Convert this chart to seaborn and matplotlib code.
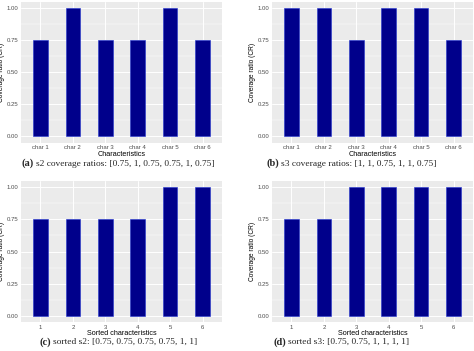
# coverage ratio bar panels (a)-(d), ggplot-like look
import matplotlib.pyplot as plt
import matplotlib as mpl
import seaborn as sns

sns.set_theme(style='darkgrid')
mpl.rcParams['font.family'] = ['Liberation Sans', 'DejaVu Sans']
mpl.rcParams['axes.facecolor'] = '#EBEBEB'
mpl.rcParams['grid.color'] = 'white'

chars = ['char 1', 'char 2', 'char 3', 'char 4', 'char 5', 'char 6']
sorted_idx = ['1', '2', '3', '4', '5', '6']
s2 = [0.75, 1, 0.75, 0.75, 1, 0.75]
s3 = [1, 1, 0.75, 1, 1, 0.75]
s2_sorted = [0.75, 0.75, 0.75, 0.75, 1, 1]
s3_sorted = [0.75, 0.75, 1, 1, 1, 1]
yticks = [0.0, 0.25, 0.5, 0.75, 1.0]
ytick_labels = ['0.00', '0.25', '0.50', '0.75', '1.00']

BAR = '#00008B'
W, H = 474, 351

panels = [
    (chars, s2, 'Characteristics', (21, 1.5), '(a)', 's2 coverage ratios: [0.75, 1, 0.75, 0.75, 1, 0.75]', (34, 163.5)),
    (chars, s3, 'Characteristics', (272, 1.5), '(b)', 's3 coverage ratios: [1, 1, 0.75, 1, 1, 0.75]', (279, 163.5)),
    (sorted_idx, s2_sorted, 'Sorted characteristics', (21, 181), '(c)', 'sorted s2: [0.75, 0.75, 0.75, 0.75, 1, 1]', (51, 342)),
    (sorted_idx, s3_sorted, 'Sorted characteristics', (272, 181), '(d)', 'sorted s3: [0.75, 0.75, 1, 1, 1, 1]', (286, 342)),
]

fig = plt.figure(figsize=(W / 100, H / 100), dpi=100)

for cats, vals, xlab, (px, py), tag, cap, (cx, cy) in panels:
    ax = fig.add_axes([px / W, 1 - (py + 141) / H, 201 / W, 141 / H])
    sns.barplot(x=cats, y=vals, color=BAR, width=0.45, saturation=1,
                edgecolor='#2233CC', linewidth=0.4, ax=ax, zorder=3)
    ax.set_xlim(-0.6, len(cats) - 0.4)
    ax.set_ylim(-0.05, 1.05)
    ax.set_yticks(yticks)
    ax.set_yticklabels(ytick_labels)
    ax.set_yticks([0.125, 0.375, 0.625, 0.875], minor=True)
    ax.grid(True, which='major', color='white', linewidth=0.7, zorder=0)
    ax.grid(True, which='minor', axis='y', color='white', linewidth=0.35, zorder=0)
    ax.set_axisbelow(True)
    ax.tick_params(axis='both', which='major', labelsize=4.3, colors='#333333',
                   length=1.5, width=0.4, pad=0.6, labelcolor='#4D4D4D')
    ax.tick_params(which='minor', length=0)
    for sp in ax.spines.values():
        sp.set_visible(False)
    ax.set_xlabel(xlab, fontsize=5.2, labelpad=0.3, color='black')
    ax.set_ylabel('Coverage ratio (CR)', fontsize=4.8, labelpad=0.6, color='black')
    fig.text(cx / W, 1 - cy / H, tag, ha='right', va='center', fontsize=7.5,
             fontweight='bold', family='Liberation Serif')
    fig.text((cx + 2) / W, 1 - cy / H, cap, ha='left', va='center', fontsize=6.75,
             family='Liberation Serif')

plt.savefig('out.png', dpi=100)
plt.close()
